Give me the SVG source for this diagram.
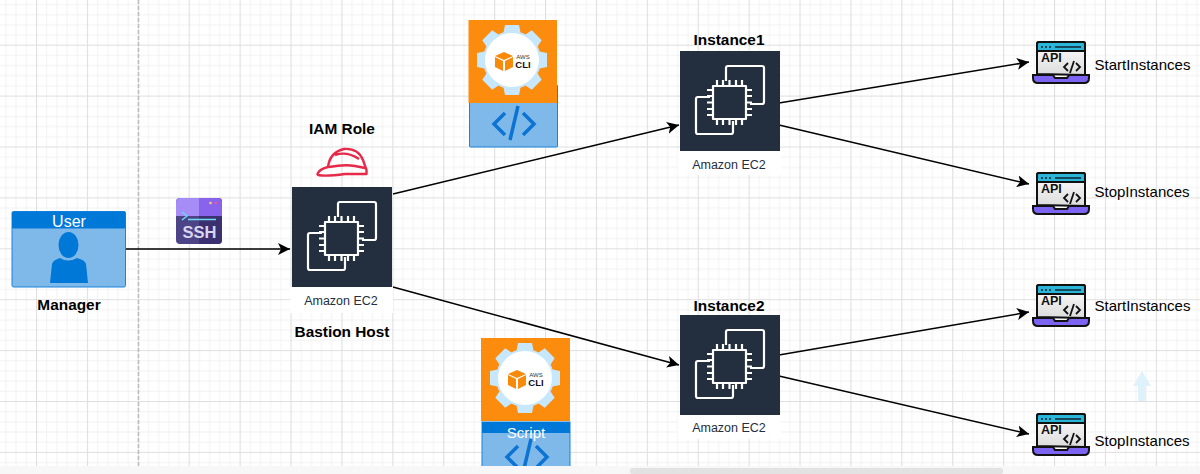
<svg xmlns="http://www.w3.org/2000/svg" width="1200" height="474" viewBox="0 0 1200 474">
<style>
text{font-family:"Liberation Sans",Arial,sans-serif}
.b{font-weight:bold;font-size:15.4px;fill:#000;text-anchor:middle}
.ec2{font-size:12.5px;fill:#232f3e;text-anchor:middle}
.api{font-size:15px;fill:#000}
.hd{font-size:16px;fill:#fff;text-anchor:middle}
.hd.s{font-size:15px}
.conn{fill:none;stroke:#000;stroke-width:1.5;marker-end:url(#ah)}
.w{fill:none;stroke:#fff;stroke-width:2.2;stroke-linejoin:round}
</style>
<defs>
<pattern id="grid" width="50.9" height="50.9" patternUnits="userSpaceOnUse" x="36" y="44.7">
<path d="M.5 0V50.9M10.7 0V50.9M20.9 0V50.9M31 0V50.9M41.2 0V50.9M0 .5H50.9M0 10.7H50.9M0 20.9H50.9M0 31H50.9M0 41.2H50.9" fill="none" stroke="#f2f2f2" stroke-width="1"/>
<path d="M.5 0V50.9M0 .5H50.9" fill="none" stroke="#dfdfdf" stroke-width="1.2"/>
</pattern>
<linearGradient id="scr" x1="0" y1="0" x2="0" y2="1"><stop offset="0" stop-color="#fff"/><stop offset="1" stop-color="#dcdcdc"/></linearGradient>
<marker id="ah" markerUnits="userSpaceOnUse" markerWidth="15" markerHeight="14" refX="12" refY="7" orient="auto"><path d="M0 1 L12 7 L0 13 L3 7Z" fill="#000"/></marker>
<path id="tooth" d="M-9-25L-7-35H7L9-25Z" fill="#c7e7fc"/>
<symbol id="ec2" width="100" height="100" viewBox="0 0 100 100" overflow="visible">
<rect width="100" height="100" fill="#232f3e"/>
<path class="w" d="M46 30V17Q46 15 48 15H82Q84 15 84 17V51Q84 53 82 53H70M30 46H18Q16 46 16 48V81Q16 83 18 83H51Q53 83 53 81V70"/>
<rect class="w" x="33" y="35" width="33" height="33"/>
<path class="w" d="M37 35V29M43 35V29M49.500 35V29M56 35V29M62 35V29M37 68V74M43 68V74M49.500 68V74M56 68V74M62 68V74M33 39H27M33 45H27M33 51.500H27M33 58H27M33 64H27M66 39H72M66 45H72M66 51.500H72M66 58H72M66 64H72"/>
</symbol>
<symbol id="gear" width="80" height="80" viewBox="-40 -40 80 80" overflow="visible">
<circle r="29" fill="#c7e7fc"/>
<use href="#tooth"/><use href="#tooth" transform="rotate(45)"/><use href="#tooth" transform="rotate(90)"/><use href="#tooth" transform="rotate(135)"/><use href="#tooth" transform="rotate(180)"/><use href="#tooth" transform="rotate(225)"/><use href="#tooth" transform="rotate(270)"/><use href="#tooth" transform="rotate(315)"/>
<circle r="27" fill="#fff"/>
<path fill="#f58a0b" d="M-17-4L-8-8L1-4L-8 0ZM-17-3L-9 1V11L-17 7ZM-7 1L1-3V7L-7 11Z"/>
<text x="11" y="-1" font-size="6" fill="#333" text-anchor="middle">AWS</text>
<text x="11" y="8" font-size="9.500" font-weight="bold" fill="#111" text-anchor="middle">CLI</text>
</symbol>
<symbol id="code" width="44" height="40" viewBox="0 0 44 40" overflow="visible">
<path fill="none" stroke="#0d73d2" stroke-width="3.500" d="M13 8L2 19L13 30M31 8L42 19L31 30M26 1L18 35"/>
</symbol>
<symbol id="apii" width="58" height="43" viewBox="0 0 58 43" overflow="visible">
<path d="M5 33V3Q5 1 7 1H51Q53 1 53 3V34Z" fill="url(#scr)" stroke="#111" stroke-width="2"/>
<path d="M5 10V3Q5 1 7 1H51Q53 1 53 3V10Z" fill="#29b6d8" stroke="#111" stroke-width="2"/>
<path d="M9 6H11M13 6H15M17 6H19M23 6H49" stroke="#123" stroke-width="1.500"/>
<path d="M1 34H21L23 37H35L37 34H57V37Q57 42 52 42H6Q1 42 1 37Z" fill="#7c63f2" stroke="#111" stroke-width="2"/>
<text x="9" y="21" font-size="12.500" font-weight="bold" fill="#111">API</text>
<path d="M36 22L32 26L36 30M44 22L48 26L44 30M42 20L38 32" fill="none" stroke="#111" stroke-width="1.800"/>
</symbol>
</defs>
<rect id="background" width="1200" height="474" fill="#fff"/>
<rect id="gridlines" width="1200" height="474" fill="url(#grid)"/>
<path id="divider" d="M138.500 0V466" stroke="#bcbcbc" stroke-width="1.500" stroke-dasharray="4 2" fill="none"/>
<path id="ghost-arrow" d="M1138 401V386H1133L1142 371L1151 386H1146V401Z" fill="#dff2fb"/>

<g id="connectors">
<path class="conn" d="M126 249H290"/>
<path class="conn" d="M393 194L679 125"/>
<path class="conn" d="M393 287L679 365"/>
<path class="conn" d="M779 103L1029 62"/>
<path class="conn" d="M779 125L1029 184"/>
<path class="conn" d="M779 355L1029 312"/>
<path class="conn" d="M779 376L1029 434"/>
</g>

<g id="user">
<rect x="12" y="211.500" width="113.500" height="75.500" rx="1.500" fill="#7fb9ea" stroke="#1a84dc"/>
<rect x="12" y="211.500" width="113.500" height="17" rx="1.500" fill="#0078d7"/>
<text class="hd" x="69" y="226.500">User</text>
<ellipse cx="68.500" cy="245" rx="10" ry="13" fill="#0078d7"/>
<path d="M50 283L52 264Q53 260 60 258Q68 263 77 258Q85 260 86 264L88 283Z" fill="#0078d7"/>
<text class="b" x="69" y="310">Manager</text>
</g>

<g id="ssh">
<rect x="176" y="198" width="46" height="46" rx="4" fill="#4d4488"/>
<path d="M199 198H218Q222 198 222 202V240Q222 244 218 244H199Z" fill="#3b3070"/>
<path d="M176 216V202Q176 198 180 198H199V216Z" fill="#a58cf7"/>
<path d="M199 198H218Q222 198 222 202V216H199Z" fill="#8a63ec"/>
<circle cx="210.500" cy="203" r="1.300" fill="#f4d35e"/><circle cx="216" cy="203" r="1.300" fill="#f0568c"/>
<path d="M182 212L187 216L182 220M188 219.500H216" fill="none" stroke="#6fd8ee" stroke-width="1.500"/>
<text x="199.500" y="238" font-size="16.500" font-weight="bold" fill="#d8d5ee" text-anchor="middle">SSH</text>
</g>

<g id="iam-role">
<text class="b" x="342" y="134">IAM Role</text>
<path d="M318 173Q320 169 328 167Q330 152 344 149Q358 148 363 160L366.500 170V174L345 174Q330 176 322 175.500Q316 175.500 318 173ZM329 167Q345 164 355 166L365 168M335 155Q347 151 359 159" fill="none" stroke="#e7294a" stroke-width="2.400" stroke-linejoin="round"/>
</g>

<g id="bastion-host">
<use href="#ec2" x="292" y="187"/>
<rect x="290" y="287" width="103" height="26" fill="#fff"/>
<text class="ec2" x="341" y="305">Amazon EC2</text>
<text class="b" x="342" y="337">Bastion Host</text>
</g>

<g id="cli-1">
<rect x="469.500" y="85" width="88" height="62" rx="1" fill="#7fb9ea" stroke="#1a84dc"/>
<use href="#code" x="492" y="105"/>
<rect x="468.500" y="20" width="88.500" height="83" fill="#fb8c0e"/>
<use href="#gear" x="472" y="20"/>
</g>

<g id="instance1">
<text class="b" x="729" y="44.500">Instance1</text>
<use href="#ec2" x="680" y="51"/>
<rect x="678" y="151" width="103" height="24" fill="#fff"/>
<text class="ec2" x="729" y="169">Amazon EC2</text>
</g>

<g id="cli-2">
<rect x="481" y="338" width="89" height="83" fill="#fb8c0e"/>
<use href="#gear" x="485" y="338"/>
<rect x="482" y="422" width="88" height="60" fill="#7fb9ea" stroke="#1a84dc"/>
<rect x="482" y="422" width="88" height="11" fill="#0078d7"/>
<text class="hd s" x="526" y="437.500">Script</text>
<use href="#code" x="505" y="438"/>
</g>

<g id="instance2">
<text class="b" x="729" y="311">Instance2</text>
<use href="#ec2" x="680" y="315"/>
<rect x="678" y="415" width="103" height="24" fill="#fff"/>
<text class="ec2" x="729" y="432">Amazon EC2</text>
</g>

<g id="start-1"><use href="#apii" x="1032" y="41"/><text class="api" x="1094.500" y="69.500">StartInstances</text></g>
<g id="stop-1"><use href="#apii" x="1032" y="172"/><text class="api" x="1094.500" y="197">StopInstances</text></g>
<g id="start-2"><use href="#apii" x="1032" y="284"/><text class="api" x="1094.500" y="311">StartInstances</text></g>
<g id="stop-2"><use href="#apii" x="1032" y="413"/><text class="api" x="1094.500" y="446">StopInstances</text></g>

<g id="window-bar">
<rect y="466" width="1200" height="8" fill="#f7f7f7"/>
<rect x="630" y="468" width="373" height="6" rx="3" fill="#e2e2e2"/>
</g>
</svg>
